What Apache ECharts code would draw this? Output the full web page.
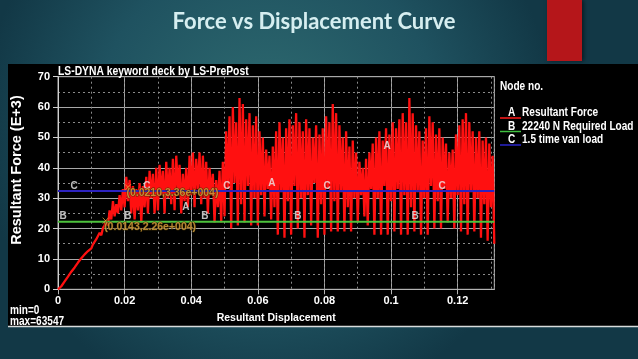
<!DOCTYPE html>
<html><head><meta charset="utf-8">
<script src="https://cdn.jsdelivr.net/npm/echarts@6/dist/echarts.min.js"></script>
<style>html,body{margin:0;padding:0;background:#1d4f5a;}#c{width:638px;height:359px;}</style>
</head><body><div id="c"></div>
<script>
// ---- data (displacement in m, force in kN i.e. E+3 N) ----
const displacement = [
0,0.001,0.002,0.003,0.004,0.005,0.006,0.007,0.008,0.009,0.010,0.0105,0.011,0.0115,0.012,0.0125,0.013,0.0135,0.0140,0.0143,0.0146,
0.0150,0.0155,0.0160,0.0165,0.0170,0.0175,0.0180,0.0185,0.0190,0.0195,
0.0200,0.0205,0.0210,0.0215,0.0220,0.0225,0.0230,0.0235,0.0240,0.0245,
0.0250,0.0255,0.0260,0.0265,0.0270,0.0275,0.0280,0.0285,0.0290,0.0295,
0.0300,0.0305,0.0310,0.0315,0.0320,0.0325,0.0330,0.0335,0.0340,0.0345,
0.0350,0.0355,0.0360,0.0365,0.0370,0.0375,0.0380,0.0385,0.0390,0.0395,
0.0400,0.0405,0.0410,0.0415,0.0420,0.0425,0.0430,0.0435,0.0440,0.0445,
0.0450,0.0455,0.0460,0.0465,0.0470,0.0475,0.0480,0.0485,0.0490,0.0495,
0.0500,0.0505,0.0510,0.0515,0.0520,0.0525,0.0530,0.0535,0.0540,0.0545,
0.0550,0.0555,0.0560,0.0565,0.0570,0.0575,0.0580,0.0585,0.0590,0.0595,
0.0600,0.0605,0.0610,0.0615,0.0620,0.0625,0.0630,0.0635,0.0640,0.0645,
0.0650,0.0655,0.0660,0.0665,0.0670,0.0675,0.0680,0.0685,0.0690,0.0695,
0.0700,0.0705,0.0710,0.0715,0.0720,0.0725,0.0730,0.0735,0.0740,0.0745,
0.0750,0.0755,0.0760,0.0765,0.0770,0.0775,0.0780,0.0785,0.0790,0.0795,
0.0800,0.0805,0.0810,0.0815,0.0820,0.0825,0.0830,0.0835,0.0840,0.0845,
0.0850,0.0855,0.0860,0.0865,0.0870,0.0875,0.0880,0.0885,0.0890,0.0895,
0.0900,0.0905,0.0910,0.0915,0.0920,0.0925,0.0930,0.0935,0.0940,0.0945,
0.0950,0.0955,0.0960,0.0965,0.0970,0.0975,0.0980,0.0985,0.0990,0.0995,
0.1000,0.1005,0.1010,0.1015,0.1020,0.1025,0.1030,0.1035,0.1040,0.1045,
0.1050,0.1055,0.1060,0.1065,0.1070,0.1075,0.1080,0.1085,0.1090,0.1095,
0.1100,0.1105,0.1110,0.1115,0.1120,0.1125,0.1130,0.1135,0.1140,0.1145,
0.1150,0.1155,0.1160,0.1165,0.1170,0.1175,0.1180,0.1185,0.1190,0.1195,
0.1200,0.1205,0.1210,0.1215,0.1220,0.1225,0.1230,0.1235,0.1240,0.1245,
0.1250,0.1255,0.1260,0.1265,0.1270,0.1275,0.1280,0.1285,0.1290,0.1295,
0.1300,0.1305,0.1310
];
const force = [
0,1.0,2.6,4.2,5.8,7.2,8.8,10.2,11.5,12.6,13.5,14.8,14.2,16.5,15.9,18.6,17.8,20.2,21.0,22.6,21.8,
21,26,23,29,24,28,25,31,26,33,
27,37,29,36,25,34,23,33,26,35,
22,34,27,37,25,39,30,38,25,40,
26,41,31,39,25,42,30,40,28,43,
26,44,33,41,25,38,29,40,27,44,
31,45,27,43,33,45,28,44,30,42,
25,40,31,38,22,36,27,39,22,42,
24,52,33,57,20,60,35,55,21,63,
28,61,22,56,34,58,21,54,30,57,
21,52,31,50,24,46,33,44,23,47,
27,52,18,55,32,50,17,53,29,56,
18,54,34,58,20,55,30,52,17,56,
31,53,21,50,35,54,17,51,28,53,
18,57,33,55,19,61,29,58,19,54,
32,50,19,52,27,47,19,49,30,45,
22,42,31,40,24,43,21,45,33,48,
18,50,30,52,18,49,34,53,18,51,
29,55,19,53,33,56,18,58,31,55,
18,63,27,58,19,54,32,52,18,49,
30,53,18,57,34,55,20,51,29,53,
20,50,33,48,22,45,30,46,20,51,
31,54,19,56,28,58,18,55,32,52,
19,50,30,52,17,49,28,50,16,48,
27,44,15
];
const requiredLoad = 22.24;   // B: 22240 N Required Load
const vanLoad = 32.4;         // C: 1.5 time van load
const xMax = 0.131;
const nodeLabelsA = [[0.0384, 27.0], [0.0642, 34.9], [0.0988, 47.0]];
const nodeLabelsB = [[0.0015, 23.9], [0.0210, 23.9], [0.0441, 23.9], [0.0720, 23.9], [0.1072, 23.9]];
const nodeLabelsC = [[0.0048, 34.0], [0.0267, 34.0], [0.0507, 34.0], [0.0808, 34.0], [0.1153, 34.0]];
const probes = [[0.0143, 22.6, '(0.0143,2.26e+004)'], [0.0210, 33.6, '(0.0210,3.36e+004)']];
const legendItems = [['A', 'Resultant Force'], ['B', '22240 N Required Load'], ['C', '1.5 time van load']];

// ---- build ----
const SANS = "'Liberation Sans',Arial,sans-serif";
const SX = 0.84; // condensed look of the original plot font
const curve = displacement.map((d, i) => [d, force[i]]);
const chart = echarts.init(document.getElementById('c'), null, {renderer: 'canvas'});
const lbl = (arr, ch) => arr.map(p => [p[0], p[1], ch]);
const legendColors = ['#ff1a1a', '#3fbf3f', '#2a24c8'];
const txt = (text, x, y, size, fill) => ({type: 'text', z: 11, x: x, y: y, scaleX: SX,
  style: {text: text, x: 0, y: 0, textVerticalAlign: 'middle', fill: fill || '#fff', font: 'bold ' + size + 'px ' + SANS}});
const graphics = [
  {type: 'rect', z: -20, shape: {x: 8, y: 64, width: 630, height: 262}, style: {fill: '#000'}},
  {type: 'line', z: -19, shape: {x1: 8, y1: 326.5, x2: 638, y2: 326.5}, style: {stroke: '#d8dcdc', lineWidth: 1.5}},
  {type: 'rect', z: -18, shape: {x: 547, y: 0, width: 35, height: 61}, style: {fill: '#b5161a', shadowBlur: 4, shadowColor: 'rgba(0,0,0,0.5)', shadowOffsetX: 2}},
  {type: 'text', z: 10, style: {text: 'Force vs Displacement Curve', x: 314, y: 22, textAlign: 'center', textVerticalAlign: 'middle', fill: '#d6eef0', font: "bold 22px Lato, 'Open Sans', sans-serif"}},
  txt('LS-DYNA keyword deck by LS-PrePost', 58, 72, 12.3),
  txt('Node no.', 500, 87, 12),
  txt('min=0', 10, 311, 12),
  txt('max=63547', 10, 322, 12)
];
legendItems.forEach((it, i) => {
  const y = 113 + i * 13.5;
  graphics.push({type: 'line', z: 10, shape: {x1: 500, y1: y + 5, x2: 521, y2: y + 5}, style: {stroke: legendColors[i], lineWidth: 1.5}});
  graphics.push(txt(it[0], 508, y, 12));
  graphics.push(txt(it[1], 522, y, 12));
});

const axisTxt = {color: '#fff', fontFamily: SANS, fontWeight: 'bold', fontSize: 11};
const option = {
  animation: false,
  backgroundColor: {type: 'radial', x: 0.42, y: 0.35, r: 0.8, colorStops: [{offset: 0, color: '#2f6c71'}, {offset: 0.6, color: '#1f5260'}, {offset: 1, color: '#123846'}]},
  graphic: graphics,
  grid: {left: 58, top: 76.7, width: 436.3, height: 212.6, show: true, borderColor: '#b4b4b4', borderWidth: 1, backgroundColor: 'transparent'},
  xAxis: [
    {type: 'value', min: 0, max: xMax, interval: 0.02,
      axisLine: {show: true, lineStyle: {color: '#b4b4b4'}},
      axisTick: {show: true, length: 5, lineStyle: {color: '#b4b4b4'}},
      axisLabel: Object.assign({margin: 6, showMaxLabel: false}, axisTxt),
      splitLine: {show: true, lineStyle: {color: '#a8a8a8', width: 1}},
      name: 'Resultant Displacement', nameLocation: 'middle', nameGap: 23,
      nameTextStyle: {color: '#fff', fontFamily: SANS, fontWeight: 'bold', fontSize: 10.5}},
    {type: 'value', min: 0, max: xMax, interval: 0.01, position: 'bottom',
      axisLine: {show: false}, axisTick: {show: false}, axisLabel: {show: false},
      splitLine: {show: true, lineStyle: {color: '#8a8a8a', width: 1, type: [2, 3]}}}
  ],
  yAxis: {type: 'value', min: 0, max: 70, interval: 10,
    axisLine: {show: true, lineStyle: {color: '#d0d0d0'}},
    axisTick: {show: true, length: 5, lineStyle: {color: '#d0d0d0'}},
    axisLabel: Object.assign({margin: 8}, axisTxt),
    splitLine: {show: true, lineStyle: {color: '#a8a8a8', width: 1}},
    minorTick: {show: false, splitNumber: 2},
    minorSplitLine: {show: true, lineStyle: {color: '#8a8a8a', width: 1, type: [2, 3]}},
    name: 'Resultant Force (E+3)', nameLocation: 'middle', nameGap: 34, nameRotate: 90,
    nameTextStyle: {color: '#fff', fontFamily: SANS, fontWeight: 'bold', fontSize: 14.5, padding: [0, 0, 0, 26]}},
  series: [
    {type: 'line', name: 'Resultant Force', data: curve, showSymbol: false, symbol: 'none', z: 3,
      lineStyle: {color: '#ff1010', width: 2.3}},
    {type: 'line', name: 'Required Load', data: [[0, requiredLoad], [xMax, requiredLoad]], symbol: 'none', z: 4,
      lineStyle: {color: '#4cc23c', width: 2}},
    {type: 'line', name: 'Van Load', data: [[0, vanLoad], [xMax, vanLoad]], symbol: 'none', z: 4,
      lineStyle: {color: '#2c22c0', width: 2}},
    {type: 'scatter', data: lbl(nodeLabelsA, 'A').concat(lbl(nodeLabelsB, 'B'), lbl(nodeLabelsC, 'C')), symbolSize: 1, z: 6,
      itemStyle: {color: 'rgba(0,0,0,0)'},
      label: {show: true, position: 'inside', formatter: p => p.data[2], color: '#ececec', fontFamily: SANS, fontWeight: 'bold', fontSize: 10}},
    {type: 'scatter', data: probes, symbol: 'path://M0,0L10,10M10,0L0,10', symbolSize: 6, z: 7,
      itemStyle: {color: 'rgba(0,0,0,0)', borderColor: '#e0a035', borderWidth: 1},
      label: {show: true, position: [2, 4], formatter: p => p.data[2], color: '#d9a240', fontFamily: SANS, fontWeight: 'bold', fontSize: 10.5,
        textBorderColor: '#3a2a00', textBorderWidth: 1}}
  ]
};
chart.setOption(option);
</script>
</body></html>
